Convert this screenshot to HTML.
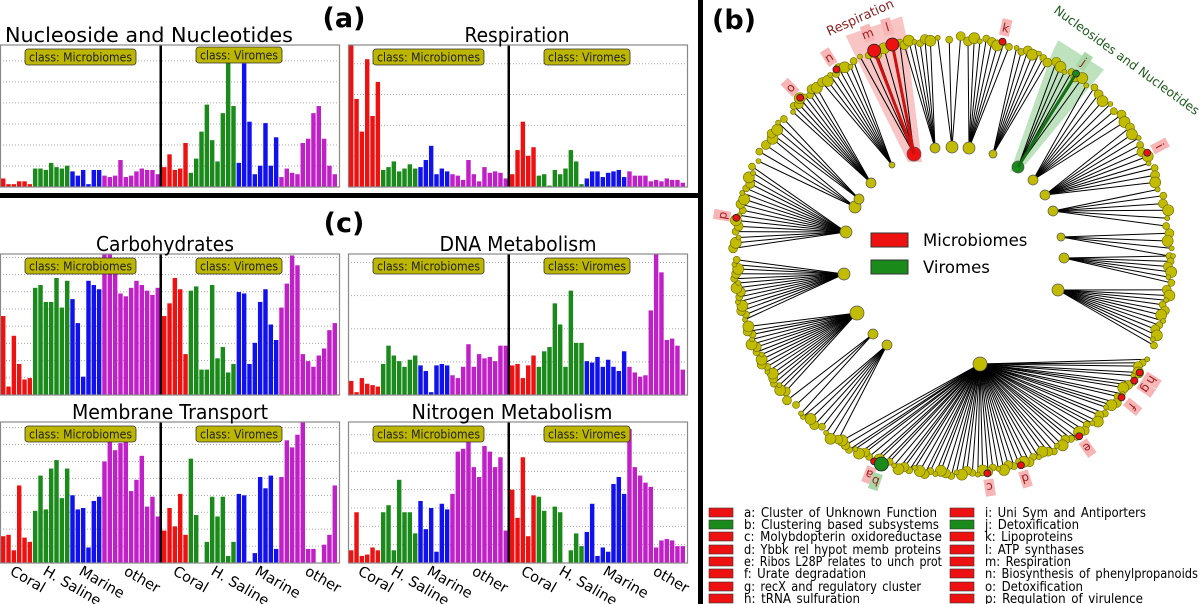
<!DOCTYPE html>
<html><head><meta charset="utf-8"><style>
html,body{margin:0;padding:0;background:#fff;width:1200px;height:604px;overflow:hidden}
svg text{font-family:"DejaVu Sans","Liberation Sans",sans-serif}
</style></head><body>
<svg id="fig" width="1200" height="604" viewBox="0 0 1200 604" xmlns="http://www.w3.org/2000/svg">
<rect x="0" y="0" width="1200" height="604" fill="#fff"/>
<rect x="698" y="0" width="5" height="604" fill="#000"/>
<rect x="0" y="193" width="700" height="5" fill="#000"/>
<text x="344" y="27" font-size="27" font-weight="bold" text-anchor="middle">(a)</text>
<text x="344" y="232" font-size="27" font-weight="bold" text-anchor="middle">(c)</text>
<text x="712" y="29" font-size="27" font-weight="bold">(b)</text>
<g id="bars"></g>
<g id="clado"></g>
</svg>
<script>
// ---- bar chart data ----
const groupNames = ["Coral","H. Saline","Marine","other"];
const groupColors = ["#ee1111","#1a8a1a","#1111ee","#c020c8"];
const groupSizesMicro = [6,7,6,11];
const groupSizesViro = [5,9,8,11];
const nucMicro = [.06,.02,.02,.04,.04,.02, .13,.13,.12,.17,.14,.13,.15, .11,.08,.12,.02,.12,.12, .08,.07,.08,.19,.07,.08,.11,.13,.12,.12,.09];
const nucViro = [.14,.23,.12,.13,.31, .1,.2,.39,.58,.33,.18,.52,.89,.57, .17,.87,.46,.09,.15,.45,.15,.35, .07,.13,.1,.09,.31,.34,.52,.57,.34,.15,.09];
const resMicro = [1,.62,.39,.9,.5,.74, .12,.14,.18,.11,.13,.16,.13, .14,.19,.29,.09,.13,.11, .09,.08,.05,.19,.09,.04,.14,.1,.11,.1,.06];
const resViro = [.09,.26,.46,.22,.28, .08,.09,.01,.12,.09,.13,.26,.18,.02, .06,.11,.11,.07,.1,.11,.12,.07, .11,.08,.08,.08,.04,.05,.04,.06,.05,.05,.03];
const carbMicro = [.56,.06,.42,.22,.11,.12, .76,.78,.66,.66,.83,.62,.81, .68,.51,.13,.81,.78,.75, 1,1,.88,.72,.7,.76,.81,.78,.74,.71,.76];
const carbViro = [.56,.65,.83,.75,.29, .74,.77,.18,.18,.78,.26,.34,.16,.22, .73,.72,.22,.37,.66,.75,.5,.39, .62,.79,.99,.92,.29,.24,.2,.28,.33,.46,.51];
const dnaMicro = [.1,.02,.12,.08,.07,.06, .22,.35,.28,.24,.2,.25,.28, .21,.17,.02,.21,.22,.21, .14,.12,.2,.36,.2,.29,.26,.27,.24,.35,.35];
const dnaViro = [.21,.22,.12,.21,.28, .2,.31,.34,.65,.5,.2,.74,.37,.37, .24,.23,.27,.2,.25,.2,.17,.31, .2,.16,.13,.14,.6,1,.87,.39,.4,.35,.18];
const memMicro = [.19,.2,.09,.55,.18,.15, .37,.62,.38,.67,.73,.46,.67, .48,.38,.39,.11,.44,.47, .72,.87,.8,.85,.88,.51,.59,.76,.4,.47,.33];
const memViro = [.23,.39,.26,.49,.2, .74,.34,0,.15,.47,.33,.47,.05,.15, .49,.48,.01,.07,.61,.53,.62,.1, .61,.87,.82,.91,1,.1,.1,0,.13,.2,.55];
const nitMicro = [.09,.36,.05,.06,.11,.09, .36,.41,.09,.59,.36,.36,.21, .44,.24,.39,.08,.42,.38, .49,.79,.81,.89,.68,.61,.83,.79,.68,.75,.23];
const nitViro = [.52,.32,.75,.19,.48, .47,.37,0,.4,.36,0,.09,.21,.12, .22,.42,.05,.11,.08,.56,.61,.49, .95,.68,.62,.57,.54,.11,.16,.17,.16,.12,.12];
const panelTitles = ["Nucleoside and Nucleotides","Respiration","Carbohydrates","DNA Metabolism","Membrane Transport","Nitrogen Metabolism"];
const gridSteps = [.148,.217,.122,.235,.12,.13];

const NS="http://www.w3.org/2000/svg";
function mk(tag, attrs, parent){const e=document.createElementNS(NS,tag);for(const k in attrs)e.setAttribute(k,attrs[k]);parent.appendChild(e);return e;}
const barsG=document.getElementById('bars');
const layout=[[0,45,187],[348,45,187],[0,254,395],[348,254,395],[0,422,563],[348,422,563]];
const titleX=[149,517,165,518,170,512];
const titleLen=[288,105,138,157,196,201];
const micros=[nucMicro,resMicro,carbMicro,dnaMicro,memMicro,nitMicro];
const viros=[nucViro,resViro,carbViro,dnaViro,memViro,nitViro];
function groupOf(i,sizes){let s=0;for(let g=0;g<sizes.length;g++){s+=sizes[g];if(i<s)return g;}return sizes.length-1;}
for(let p=0;p<6;p++){
  const [x0,yT,yB]=layout[p]; const W=340, H=yB-yT;
  const g=mk('g',{},barsG);
  
  
  const yS=v=>yB-Math.min(v,1)*H;
  for(let v=gridSteps[p]; v<0.99; v+=gridSteps[p]){
    const l=mk('line',{x1:x0,x2:x0+W,y1:yS(v),y2:yS(v),stroke:'#aaa','stroke-dasharray':'1,2','stroke-width':1},g);
    
    
  }
  const step=5.33;
  const xMicro=i=>x0+1+i*step;
  const xViro=j=>x0+162+j*step;
  micros[p].forEach((v,i)=>{
    const r=mk('rect',{x:xMicro(i),y:yS(v),width:step-0.9,height:Math.min(v,1)*H,fill:groupColors[groupOf(i,groupSizesMicro)]},g);
    
    
  });
  viros[p].forEach((v,j)=>{
    const r=mk('rect',{x:xViro(j),y:yS(v),width:step-0.9,height:Math.min(v,1)*H,fill:groupColors[groupOf(j,groupSizesViro)]},g);
    
    
  });
  const d=mk('rect',{x:x0+159.5,y:yT,width:2.5,height:H,fill:'#000'},g);
  
  
  const fr=mk('rect',{x:x0+0.5,y:yT,width:W-1,height:H,fill:'none',stroke:'#888','stroke-width':1.2},g);
  
  
  [[25,111,'class: Microbiomes'],[196,86,'class: Viromes']].forEach(([bx,bw,t])=>{
    const yb=yT+(p===0&&bx===196?2:4);
    const b=mk('rect',{x:x0+bx,y:yb,width:bw,height:16,rx:3,fill:'#bcb600',stroke:'#333','stroke-width':0.8},g);
    
    
    const tx=mk('text',{x:x0+bx+4,y:yb+12.5,'font-size':12.5,textLength:bw-8,lengthAdjust:'spacingAndGlyphs',fill:'#222'},g);
    tx.textContent=t;
    
    
  });
  const tt=mk('text',{x:titleX[p]-titleLen[p]/2,y:yT-3,'font-size':20,textLength:titleLen[p],lengthAdjust:'spacingAndGlyphs',fill:'#000'},g);
  tt.textContent=panelTitles[p];
  
  
  if(p>=4){
    const offs=[9,42,78,123,172,210,254,304];
    offs.forEach((ox,k)=>{
      const lx=x0+ox, ly=yB+11;
      const t=mk('text',{x:lx,y:ly,'font-size':14.5,transform:`rotate(30 ${lx} ${ly})`},g);
      t.textContent=groupNames[k%4];
      
      
    });
  }
}

// ---- cladogram ----
const cx=953, cy=256, R=220;
const clades=[
 [980,364,7,28,121,68],[887,345,5,122,133,7],[873,334,5,134,139,3],[857,313,7,141,161,18],
 [844,274,6,163,179,14],[846,232,6,182,204,16],[855,207,6,206,213,4],[859,199,5,214,219,4],
 [871,183,5,222,231,8],[892,165,3,233,243,8],[914,154,7,245,256,6],[935,148,5,257,264,6],
 [952,147,6,266,272,3],[969,148,6,274,285,8],[993,154,4,287,296,7],[1018,167,6,298,306,6],
 [1033,180,5,308,322,8],[1045,195,5,324,340,10],[1053,211,5,342,352,6],[1061,237,4,354,360,4],
 [1064,258,5,0,7,6],[1058,290,6,9,24,12]
];
const marked=[[32,'h','r'],[34.5,'g','r'],[40,'f','r'],[55,'e','r'],[72,'d','r'],[81,'c','r'],[111,'a','r'],[109,'b','g'],
 [190,'p','r'],[226,'o','r'],[238,'n','r'],[249,'m','r'],[254,'l','r'],[283,'k','r'],[304,'j','g'],[332,'i','r']];
const cg=document.getElementById('clado');
const P=(phi,r)=>[cx+r*Math.cos(phi*Math.PI/180), cy+r*Math.sin(phi*Math.PI/180)];
(function(){
  const a=P(244,228),b=P(258,228),c2=P(258,245),d=P(244,245);
  const w=mk('polygon',{points:`908,162 922,162 ${b} ${c2} ${d} ${a}`,fill:'#f7b5b5',opacity:0.8},cg);
  
  
  const g1=P(296,226),g2=P(309,226),g3=P(309,240),g4=P(296,240);
  const w2=mk('polygon',{points:`1010,172 1026,164 ${g2} ${g3} ${g4} ${g1}`,fill:'#a8d8a8',opacity:0.75},cg);
  
  
})();
clades.forEach((c,ci)=>{
  const [ix,iy,ir,a0,a1,n]=c;
  for(let k=0;k<n;k++){
    const phi=a0+(n>1?(a1-a0)*k/(n-1):0);
    const [lx,ly]=P(phi,R-((k*7+ci*3)%5)*1.2);
    const ln=mk('line',{x1:ix,y1:iy,x2:lx,y2:ly,stroke:'#000','stroke-width':1},cg);
    
    
  }
});
clades.forEach((c,ci)=>{
  const [ix,iy,ir,a0,a1,n]=c;
  for(let k=0;k<n;k++){
    const phi=a0+(n>1?(a1-a0)*k/(n-1):0);
    const [lx,ly]=P(phi,R-((k*7+ci*3)%5)*1.2);
    const rr=2.5+((k*5+ci*2)%4);
    const l=mk('circle',{cx:lx,cy:ly,r:rr,fill:'#c2bc00',stroke:'#6a6600','stroke-width':0.6},cg);
    
    
  }
  const col=ci===10?'#ee1111':(ci===15?'#1a8a1a':'#c2bc00');
  const nd=mk('circle',{cx:ix,cy:iy,r:ir,fill:col,stroke:'#555','stroke-width':0.7},cg);
  
  
});
[[914,154,249,3],[914,154,254,3],[1018,167,304,3]].forEach(([x,y,phi,w],i)=>{
  const [lx,ly]=P(phi,R);
  const l=mk('line',{x1:x,y1:y,x2:lx,y2:ly,stroke:i<2?'#cc1111':'#137013','stroke-width':w},cg);
  
  
});
marked.forEach(([phi,lab,c])=>{
  const [mx,my]=P(phi,R);
  const big=(lab==='l'||lab==='m'||lab==='b');
  const [tx,ty]=P(phi,R+(big?18:14));
  const rot=phi+90;
  const bx=mk('rect',{x:tx-5,y:ty-9,width:10,height:17,fill:c==='g'?'#a8d8a8':'#f7b5b5',transform:`rotate(${rot} ${tx} ${ty})`},cg);
  
  
  const t=mk('text',{x:tx,y:ty+4,'font-size':12,'text-anchor':'middle',fill:'#a02020',transform:`rotate(${rot} ${tx} ${ty})`},cg);
  t.textContent=lab;
  
  
  const n=mk('circle',{cx:mx,cy:my,r:big?(lab==='b'?7:6.5):3.5,fill:c==='g'?'#1a8a1a':'#ee1111',stroke:'#222','stroke-width':0.8},cg);
  
  
});
</script>
<svg style="position:absolute;left:0;top:0" width="1200" height="604">
<text x="829" y="36" font-size="13" fill="#8a2020" transform="rotate(-24 829 36)" textLength="72" lengthAdjust="spacingAndGlyphs" font-family="DejaVu Sans,sans-serif">Respiration</text>
<text x="1053" y="12" font-size="12.5" fill="#1e5a1e" transform="rotate(36 1053 12)" textLength="176" lengthAdjust="spacingAndGlyphs" font-family="DejaVu Sans,sans-serif">Nucleosides and Nucleotides</text>
<g font-family="DejaVu Sans,sans-serif">
<rect x="871" y="233" width="37" height="14" fill="#ee1111" stroke="#333"/>
<text x="923" y="246" font-size="16.5">Microbiomes</text>
<rect x="871" y="260" width="37" height="14" fill="#1a8a1a" stroke="#333"/>
<text x="923" y="273" font-size="16.5">Viromes</text>
</g>
<g font-family="DejaVu Sans,sans-serif" font-size="13" word-spacing="2">
<g><rect x="709" y="508" width="24" height="9" fill="#ee1111" stroke="#333" stroke-width=".6"/><text x="744" y="517" textLength="193" lengthAdjust="spacingAndGlyphs">a: Cluster of Unknown Function</text></g>
<g><rect x="709" y="520" width="24" height="9" fill="#1a8a1a" stroke="#333" stroke-width=".6"/><text x="744" y="529" textLength="195" lengthAdjust="spacingAndGlyphs">b: Clustering based subsystems</text></g>
<g><rect x="709" y="532" width="24" height="9" fill="#ee1111" stroke="#333" stroke-width=".6"/><text x="744" y="541" textLength="198" lengthAdjust="spacingAndGlyphs">c: Molybdopterin oxidoreductase</text></g>
<g><rect x="709" y="545" width="24" height="9" fill="#ee1111" stroke="#333" stroke-width=".6"/><text x="744" y="554" textLength="197" lengthAdjust="spacingAndGlyphs">d: Ybbk rel hypot memb proteins</text></g>
<g><rect x="709" y="557" width="24" height="9" fill="#ee1111" stroke="#333" stroke-width=".6"/><text x="744" y="566" textLength="198" lengthAdjust="spacingAndGlyphs">e: Ribos L28P relates to unch prot</text></g>
<g><rect x="709" y="569" width="24" height="9" fill="#ee1111" stroke="#333" stroke-width=".6"/><text x="744" y="578" textLength="122" lengthAdjust="spacingAndGlyphs">f: Urate degradation</text></g>
<g><rect x="709" y="582" width="24" height="9" fill="#ee1111" stroke="#333" stroke-width=".6"/><text x="744" y="591" textLength="177" lengthAdjust="spacingAndGlyphs">g: recX and regulatory cluster</text></g>
<g><rect x="709" y="594" width="24" height="9" fill="#ee1111" stroke="#333" stroke-width=".6"/><text x="744" y="603" textLength="116" lengthAdjust="spacingAndGlyphs">h: tRNA sulfuration</text></g>
<g><rect x="950" y="508" width="24" height="9" fill="#ee1111" stroke="#333" stroke-width=".6"/><text x="985" y="517" textLength="161" lengthAdjust="spacingAndGlyphs">i: Uni Sym and Antiporters</text></g>
<g><rect x="950" y="520" width="24" height="9" fill="#1a8a1a" stroke="#333" stroke-width=".6"/><text x="985" y="529" textLength="94" lengthAdjust="spacingAndGlyphs">j: Detoxification</text></g>
<g><rect x="950" y="532" width="24" height="9" fill="#ee1111" stroke="#333" stroke-width=".6"/><text x="985" y="541" textLength="88" lengthAdjust="spacingAndGlyphs">k: Lipoproteins</text></g>
<g><rect x="950" y="545" width="24" height="9" fill="#ee1111" stroke="#333" stroke-width=".6"/><text x="985" y="554" textLength="99" lengthAdjust="spacingAndGlyphs">l: ATP synthases</text></g>
<g><rect x="950" y="557" width="24" height="9" fill="#ee1111" stroke="#333" stroke-width=".6"/><text x="985" y="566" textLength="86" lengthAdjust="spacingAndGlyphs">m: Respiration</text></g>
<g><rect x="950" y="569" width="24" height="9" fill="#ee1111" stroke="#333" stroke-width=".6"/><text x="985" y="578" textLength="213" lengthAdjust="spacingAndGlyphs">n: Biosynthesis of phenylpropanoids</text></g>
<g><rect x="950" y="582" width="24" height="9" fill="#ee1111" stroke="#333" stroke-width=".6"/><text x="985" y="591" textLength="98" lengthAdjust="spacingAndGlyphs">o: Detoxification</text></g>
<g><rect x="950" y="594" width="24" height="9" fill="#ee1111" stroke="#333" stroke-width=".6"/><text x="985" y="603" textLength="158" lengthAdjust="spacingAndGlyphs">p: Regulation of virulence</text></g>
</g>
</svg>
</body></html>
